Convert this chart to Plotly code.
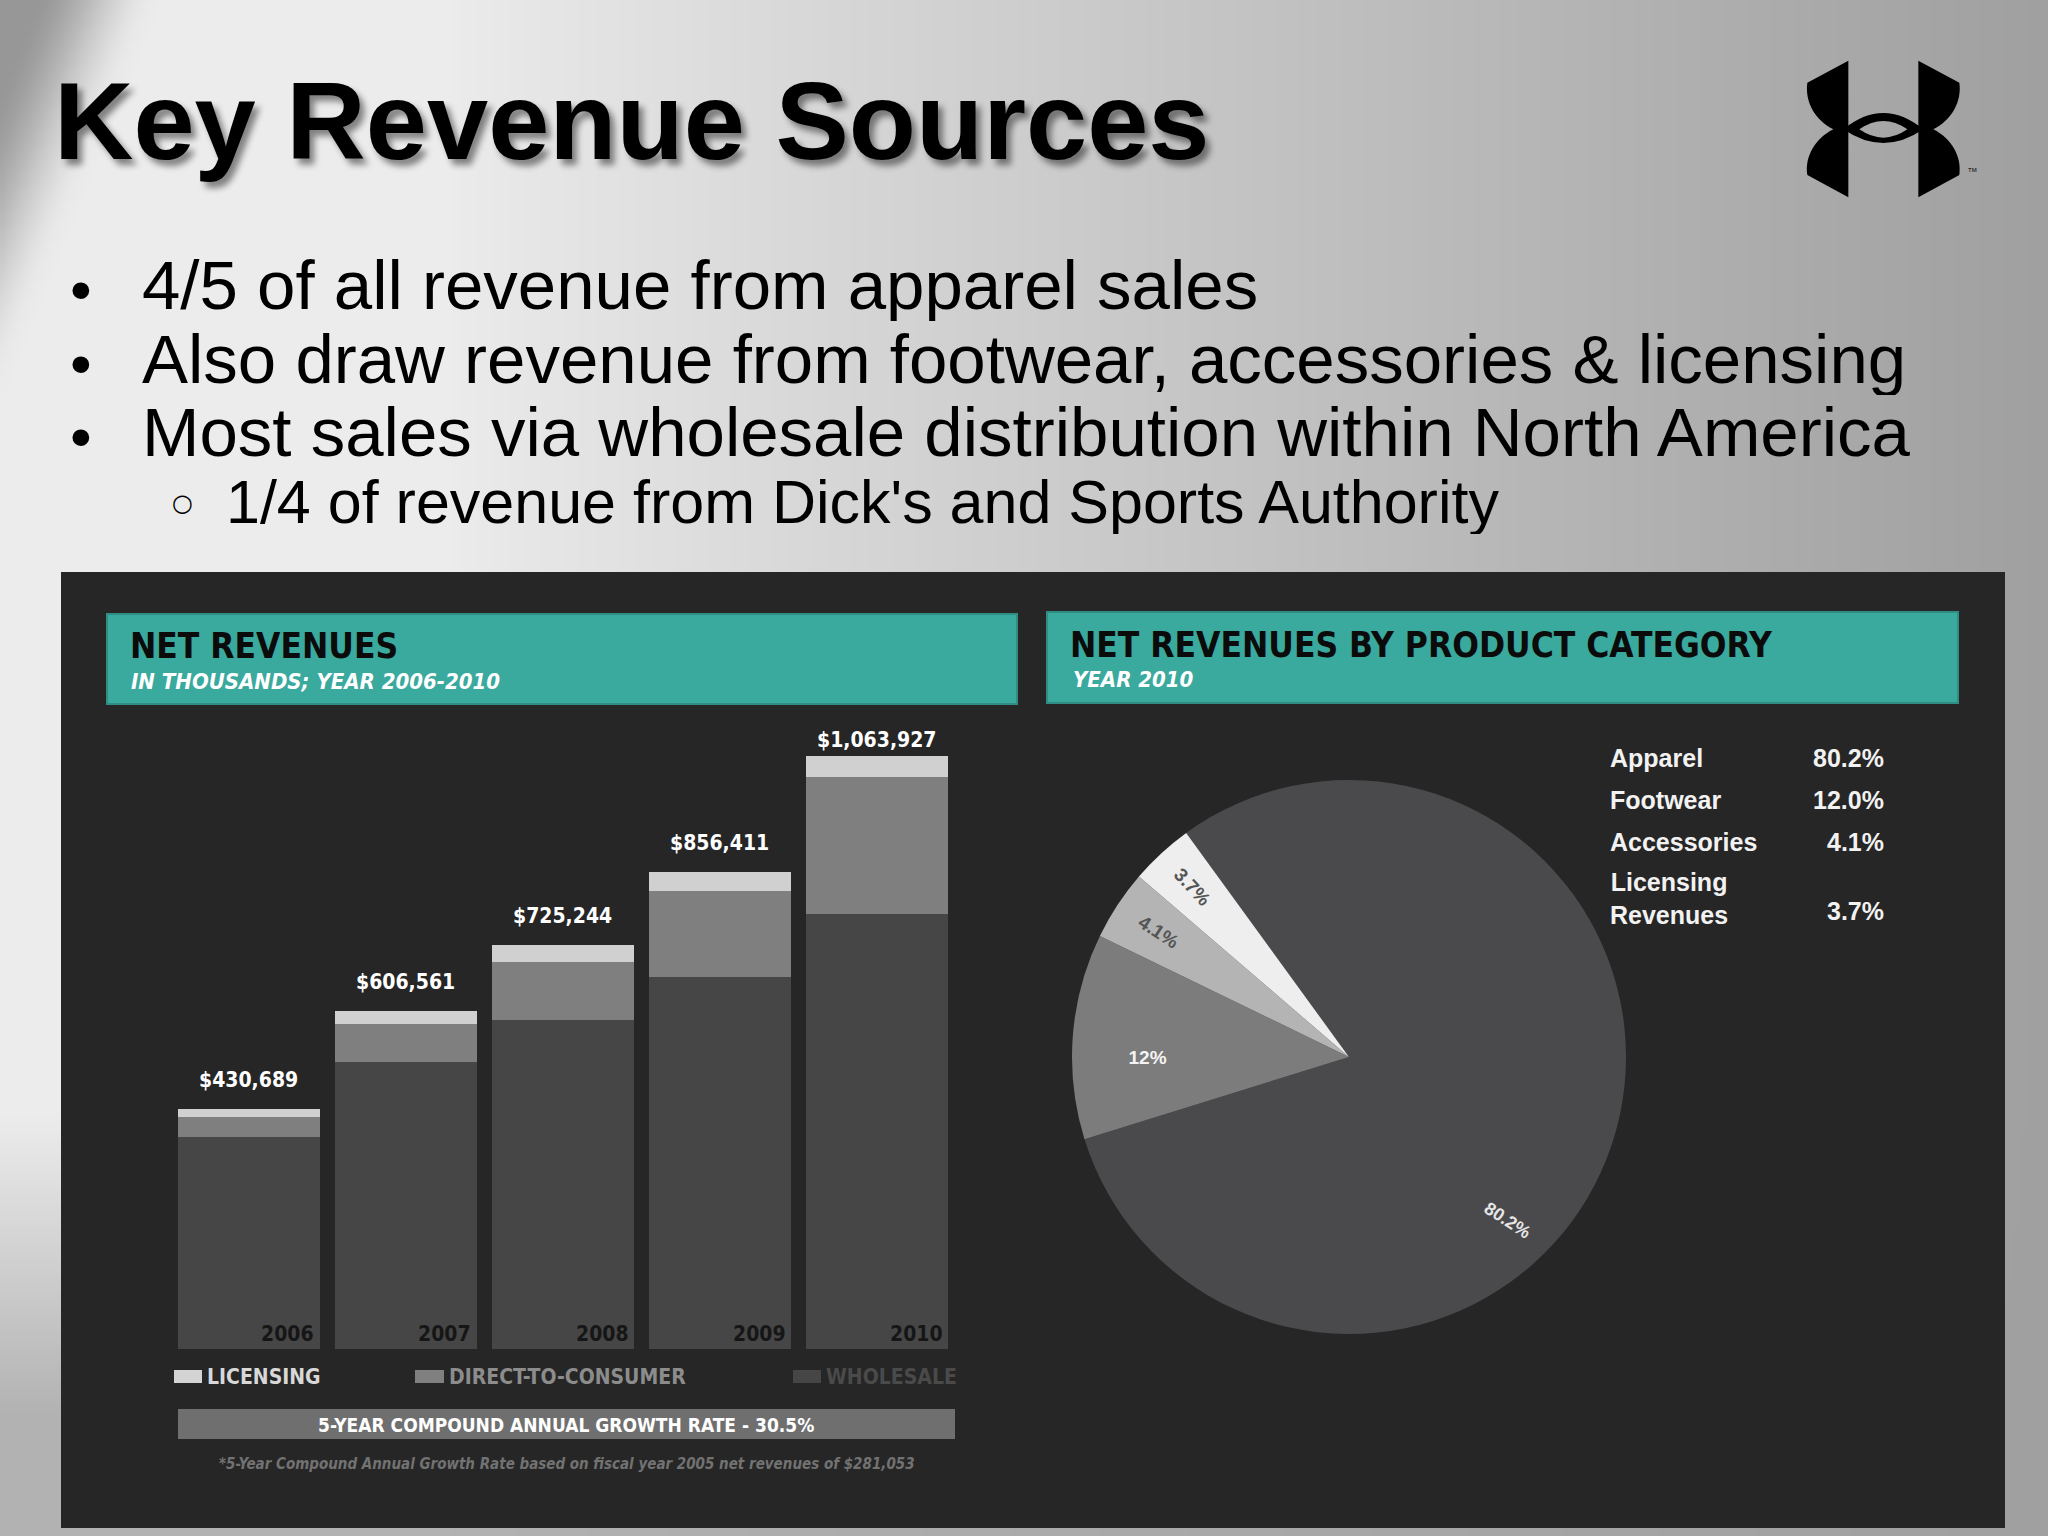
import numpy as np, zlib, struct, base64
import plotly.graph_objects as go

W, H = 2048, 1536

# ---------------- data ----------------
years = ["2006", "2007", "2008", "2009", "2010"]
totals = [430689, 606561, 725244, 856411, 1063927]
total_labels = ["$430,689", "$606,561", "$725,244", "$856,411", "$1,063,927"]
licensing = [15000, 24000, 31000, 34000, 38000]
direct_to_consumer = [35000, 67000, 104000, 154000, 245000]
wholesale = [380689, 515561, 590244, 668411, 780927]

categories = ["Apparel", "Footwear", "Accessories", "Licensing Revenues"]
legend_names = ["Apparel", "Footwear", "Accessories", "Licensing<br>Revenues"]
shares = [80.2, 12.0, 4.1, 3.7]
share_labels = ["80.2%", "12.0%", "4.1%", "3.7%"]
slice_labels = ["80.2%", "12%", "4.1%", "3.7%"]

bullets = [
    "4/5 of all revenue from apparel sales",
    "Also draw revenue from footwear, accessories & licensing",
    "Most sales via wholesale distribution within North America",
]
sub_bullet = "1/4 of revenue from Dick's and Sports Authority"

# ---------------- helpers ----------------
def px(x):
    return x / W

def py(y):
    return 1 - y / H

COND = "Liberation Sans Narrow, DejaVu Sans Condensed, Roboto, sans-serif"
SANS = "Liberation Sans, Arial, sans-serif"

annotations = []
shapes = []

def ann(text, x, y, size, color, family=SANS, weight=400, xanchor="left",
        yanchor="middle", style="normal", angle=0, shadow=None, height=None):
    f = dict(family=family, size=size, color=color, weight=weight, style=style)
    if shadow:
        f["shadow"] = shadow
    a = dict(text=text, x=px(x), y=py(y), xref="paper", yref="paper", showarrow=False,
             xanchor=xanchor, yanchor=yanchor, font=f, textangle=angle)
    if height:
        a["height"] = height
    annotations.append(a)

def rect(x0, y0, x1, y1, fill, line=None, lw=0, layer="below"):
    shapes.append(dict(type="rect", xref="paper", yref="paper",
                       x0=px(x0), x1=px(x1), y0=py(y1), y1=py(y0),
                       fillcolor=fill, line=dict(color=line or fill, width=lw), layer=layer))

# ---------------- background gradient image ----------------
gw, gh = 512, 384
xs = (np.arange(gw) + 0.5) / gw * W
ys = (np.arange(gh) + 0.5) / gh * H
X, Y = np.meshgrid(xs, ys)
right = np.clip((X - 450) / 1600, 0, 1) ** 0.9
v = 236 - 76 * right
s = X / 160 + Y / 400
wedge = np.clip((1.0 - s) / 0.8, 0, 1)
wedge = wedge * wedge * (3 - 2 * wedge)
v = v - 85 * wedge
v = v - 58 * np.clip((Y - 1120) / 300, 0, 1) * (1 - right)
v = np.clip(v, 0, 255).astype(np.uint8)
img = np.stack([v, v, v], axis=-1)

def png_uri(arr):
    h, w, _ = arr.shape
    raw = b"".join(b"\x00" + arr[i].tobytes() for i in range(h))
    def chunk(t, d):
        c = struct.pack(">I", len(d)) + t + d
        return c + struct.pack(">I", zlib.crc32(t + d) & 0xffffffff)
    png = (b"\x89PNG\r\n\x1a\n"
           + chunk(b"IHDR", struct.pack(">IIBBBBB", w, h, 8, 2, 0, 0, 0))
           + chunk(b"IDAT", zlib.compress(raw, 9))
           + chunk(b"IEND", b""))
    return "data:image/png;base64," + base64.b64encode(png).decode()

bg_uri = png_uri(img)

# ---------------- slide decorations ----------------
rect(61, 572, 2005, 1528, "#262626")
# headers
rect(107, 614, 1017, 704, "#3aa99e", "#2f8d84", 2)
rect(1047, 612, 1958, 703, "#3aa99e", "#2f8d84", 2)
# CAGR bar
rect(178, 1409, 955, 1439, "#6f6f6f")
# legend swatches
rect(174, 1370, 202, 1383, "#d4d4d4")
rect(415, 1370, 444, 1383, "#808080")
rect(793, 1370, 821, 1383, "#464646")

# ---------------- logo ----------------
LX, LY = 1780, 40
def lp(zx, zy):
    return f"{px(LX + zx / 3):.5f},{py(LY + zy / 3):.5f}"

def logo_path(cmds):
    out = []
    for c in cmds:
        op, pts = c[0], c[1:]
        if op == "Z":
            out.append("Z")
        else:
            out.append(op + " " + " ".join(lp(pts[i], pts[i + 1]) for i in range(0, len(pts), 2)))
    return " ".join(out)

left_piece = [("M", 205, 62), ("L", 82, 128), ("C", 74, 185, 105, 240, 160, 268),
              ("C", 105, 296, 74, 350, 82, 405), ("L", 205, 472), ("Z",)]
right_piece = [("M", 415, 62), ("L", 538, 128), ("C", 546, 185, 515, 240, 460, 268),
               ("C", 515, 296, 546, 350, 538, 405), ("L", 415, 472), ("Z",)]
band = [("M", 190, 268), ("Q", 310, 170, 430, 268), ("Q", 310, 350, 190, 268), ("Z",),
        ("M", 238, 268), ("Q", 310, 318, 382, 268), ("Q", 310, 218, 238, 268), ("Z",)]
for pth in (left_piece, right_piece, band):
    shapes.append(dict(type="path", xref="paper", yref="paper", path=logo_path(pth),
                       fillcolor="#000000", line=dict(width=0), layer="above"))
ann("TM", 1966, 170, 6, "#000000")

# ---------------- slide text ----------------
ann("Key Revenue Sources", 52, 121, 110, "#000000", weight=700,
    shadow="5px 6px 6px rgba(0,0,0,0.45)")
bullet_y = [285, 359, 432]
for t, yy in zip(bullets, bullet_y):
    ann("•", 81, yy + 4, 62, "#000000", xanchor="center", height=70)
    ann(t, 140, yy, 69, "#000000", height=72)
ann("○", 182, 503, 24, "#000000", family="DejaVu Sans", xanchor="center")
ann(sub_bullet, 224, 502, 61, "#000000", height=64)

# headers text
ann("NET REVENUES", 128, 646, 35, "#0b0b0b", family=COND, weight=700)
ann("IN THOUSANDS; YEAR 2006-2010", 129, 681, 22, "#ffffff", family=COND, weight=700, style="italic")
ann("NET REVENUES BY PRODUCT CATEGORY", 1068, 645, 35, "#0b0b0b", family=COND, weight=700)
ann("YEAR 2010", 1071, 679, 22, "#ffffff", family=COND, weight=700, style="italic")

# legend labels
ann("LICENSING", 205, 1377, 21, "#d8d8d8", family=COND, weight=700)
ann("DIRECT-TO-CONSUMER", 447, 1377, 21, "#8c8c8c", family=COND, weight=700)
ann("WHOLESALE", 824, 1377, 21, "#4a4a4a", family=COND, weight=700)

ann("5-YEAR COMPOUND ANNUAL GROWTH RATE - 30.5%", 566, 1425, 19, "#ffffff",
    family=COND, weight=700, xanchor="center")
ann("*5-Year Compound Annual Growth Rate based on fiscal year 2005 net revenues of $281,053",
    567, 1464, 15, "#727272", family=COND, weight=700, style="italic", xanchor="center")

# pie legend
row_y = [758, 800, 842, 898]
for name, lab, yy in zip(legend_names, share_labels, row_y):
    ann(name, 1608, yy, 25, "#f2f2f2", weight=700)
    ann(lab, 1886, yy + (13 if "<br>" in name else 0), 25, "#f2f2f2", weight=700, xanchor="right")

# ---------------- bar chart ----------------
xpos = list(range(len(years)))
fig = go.Figure()
for vals, col, nm in [(wholesale, "#464647", "WHOLESALE"),
                      (direct_to_consumer, "#7f7f80", "DIRECT-TO-CONSUMER"),
                      (licensing, "#d0d0d0", "LICENSING")]:
    fig.add_trace(go.Bar(x=xpos, y=vals, name=nm, marker=dict(color=col, line=dict(width=0)),
                         showlegend=False, hoverinfo="skip"))

for i, (yr, tot, lab) in enumerate(zip(years, totals, total_labels)):
    annotations.append(dict(text=lab, x=i, y=tot, xref="x", yref="y", showarrow=False,
                            xanchor="center", yanchor="middle", yshift=(16 if i == 4 else 29),
                            font=dict(family=COND, size=21, color="#ffffff", weight=700)))
    annotations.append(dict(text=yr, x=i + 0.45, y=py(1334), xref="x", yref="paper",
                            showarrow=False, xanchor="right", yanchor="middle", xshift=-3,
                            font=dict(family=COND, size=21, color="#161616", weight=700)))

# ---------------- pie ----------------
fig.add_trace(go.Pie(
    labels=categories, values=shares, sort=False, direction="clockwise", rotation=-36,
    text=[""] + slice_labels[1:], textinfo="text", textposition="inside",
    insidetextorientation="radial",
    textfont=dict(family=SANS, size=19, weight=700,
                  color=["#ffffff", "#f4f4f4", "#555555", "#555555"]),
    marker=dict(colors=["#4a4a4c", "#7c7c7c", "#b4b4b4", "#eeeeee"], line=dict(width=0)),
    domain=dict(x=[px(1072), px(1626)], y=[py(1334), py(780)]),
    showlegend=False, hoverinfo="skip",
))
ann(slice_labels[0], 1507, 1220, 18, "#e6e6e6", weight=700, xanchor="center", angle=33)

fig.update_layout(
    width=W, height=H, margin=dict(l=0, r=0, t=0, b=0),
    paper_bgcolor="#a8a8a8", plot_bgcolor="rgba(0,0,0,0)",
    barmode="stack", bargap=0.093,
    xaxis=dict(domain=[px(170.3), px(955.4)], range=[-0.5, 4.5], visible=False, fixedrange=True),
    yaxis=dict(domain=[py(1349.3), py(708)], range=[0, 1150000], visible=False, fixedrange=True),
    images=[dict(source=bg_uri, xref="paper", yref="paper", x=0, y=1, sizex=1, sizey=1,
                 xanchor="left", yanchor="top", sizing="stretch", layer="below")],
    shapes=shapes, annotations=annotations, showlegend=False,
)
fig.write_html("out.html")
